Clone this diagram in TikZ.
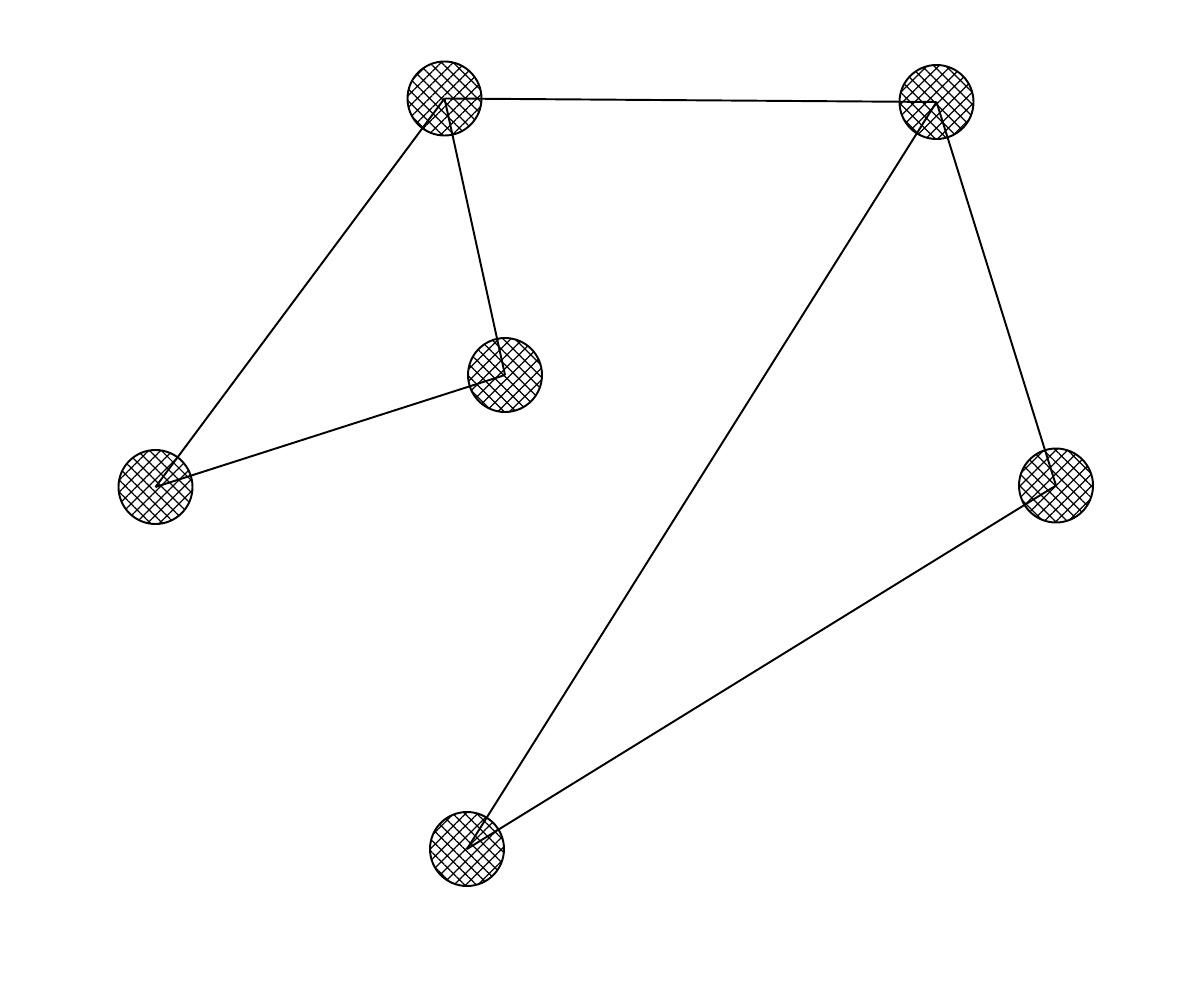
\documentclass[tikz,border=0pt]{standalone}
\usetikzlibrary{patterns.meta}
\begin{document}
\begin{tikzpicture}[every loop/.style={},line width=1.1pt,main node/.style={circle,draw,inner sep=0pt,minimum size=1.48cm,pattern={Hatch[angle=45,distance=4.8pt,line width=0.7pt]}}]
                \useasboundingbox (0,0) rectangle (24,19.62);

                \node[main node] at (8.89, 17.65) (a) {};
                \node[main node] at (18.73, 17.58) (b) {};
                \node[main node] at (10.10, 12.12) (c) {};
                \node[main node] at (3.11, 9.88) (d) {};
                \node[main node] at (21.12, 9.91) (e) {};
                \node[main node] at (9.34, 2.64) (f) {};

                \path[-] (a.center) edge[] node {} (b.center)
                         (a.center) edge[] node {} (c.center)
                         (a.center) edge[] node {} (d.center)
                         (c.center) edge[] node {} (d.center)
                         (b.center) edge[] node {} (f.center)
                         (b.center) edge[] node {} (e.center)
                         (e.center) edge[] node {} (f.center);
            \end{tikzpicture}
\end{document}
